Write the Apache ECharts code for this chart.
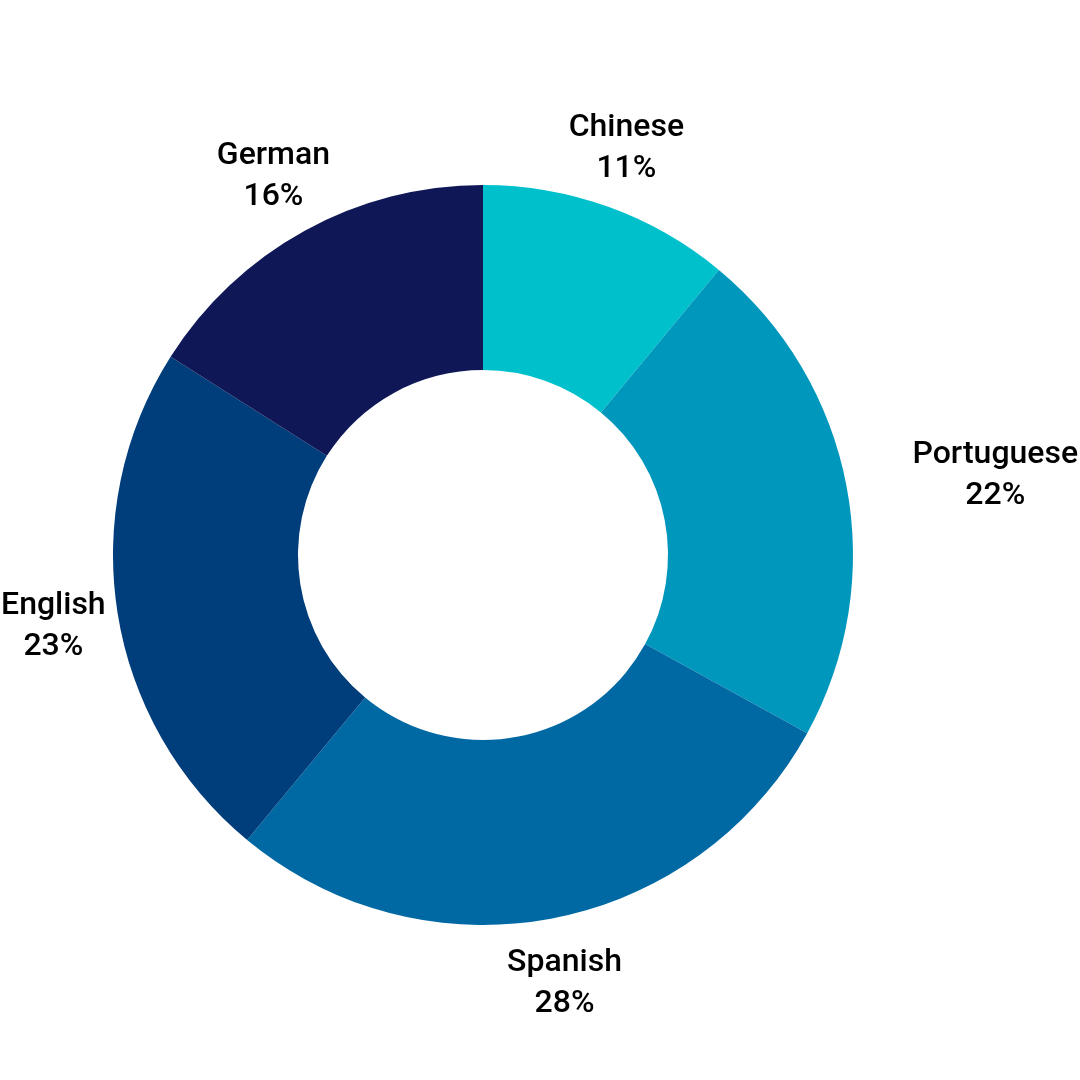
<!DOCTYPE html>
<html>
<head>
<meta charset="utf-8">
<style>
  html, body { margin: 0; padding: 0; background: #ffffff; }
  #chart { width: 1080px; height: 1080px; }
</style>
<script src="https://cdn.jsdelivr.net/npm/echarts@6/dist/echarts.min.js"></script>
</head>
<body>
<div id="chart"></div>
<script>
// Share of each language (percent), clockwise from 12 o'clock
const languages = ['Chinese', 'Portuguese', 'Spanish', 'English', 'German'];
const shares = [11, 22, 28, 23, 16];
const sliceColors = ['#00C1CB', '#0097BD', '#0069A3', '#003D7B', '#101756'];

const chart = echarts.init(document.getElementById('chart'), null, { renderer: 'canvas' });

const CENTER = [483, 555];
const FONT = 'Roboto, "Noto Sans", sans-serif';

// Label offsets: a slight downward nudge, with a few labels placed individually
const defaultShift = [0, 3];
const labelShift = { Chinese: [-4, 3], Portuguese: [85, 2], Spanish: [0, 1] };

const ringData = languages.map((name, i) => ({
  name: name,
  value: shares[i],
  itemStyle: { color: sliceColors[i] }
}));

// Transparent ring that only carries the category labels around the donut
const labelData = languages.map((name, i) => ({
  name: name,
  value: shares[i],
  label: { offset: labelShift[name] || defaultShift }
}));

chart.setOption({
  animation: false,
  backgroundColor: '#ffffff',
  series: [
    {
      type: 'pie',
      center: CENTER,
      radius: [185, 370],
      startAngle: 90,
      clockwise: true,
      silent: true,
      avoidLabelOverlap: false,
      label: { show: false },
      labelLine: { show: false },
      itemStyle: { borderWidth: 0 },
      data: ringData
    },
    {
      type: 'pie',
      center: CENTER,
      radius: [415, 449],
      startAngle: 90,
      clockwise: true,
      silent: true,
      avoidLabelOverlap: false,
      itemStyle: { color: 'rgba(0,0,0,0)', borderWidth: 0 },
      labelLine: { show: false },
      label: {
        show: true,
        position: 'inside',
        rotate: 0,
        formatter: p => p.name + '\n' + p.value + '%',
        color: '#000000',
        fontFamily: FONT,
        fontWeight: 500,
        fontSize: 32,
        lineHeight: 41,
        align: 'center'
      },
      data: labelData
    }
  ]
});
</script>
</body>
</html>
